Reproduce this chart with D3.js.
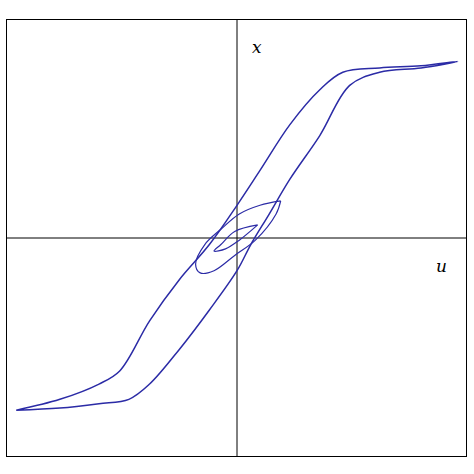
<!DOCTYPE html>
<html><head><meta charset="utf-8">
<script src="https://cdn.jsdelivr.net/npm/d3@7"></script>
<style>body{margin:0;background:#fff}</style>
</head><body>
<script>
// loops in (u, x) units
const outerLoop = [
  [-96,-79],[-77,-74],[-60,-67],[-51,-61],[-38,-38],[-25,-19],[-12,-3],[0,15],[10,31],[23,52],[36,68],[46,76],[62,78],[80,79],[96,81],
  [80,78],[62,76],[49,70],[36,47],[23,27],[14,11],[6,-3],[0,-15],[-12,-33],[-25,-51],[-38,-67],[-47,-74],[-60,-76],[-77,-78],[-96,-79]
];
const middleLoop = [
  [19,17],[10,15],[1,11],[-7,4],[-14,-3],[-18,-12],[-16,-16],[-10,-15],[-1,-8],[8,-1],[17,11],[19,17]
];
const innerLoop = [
  [9,6],[-1,3],[-7,-3],[-10,-6],[-5,-5],[1,-1],[9,6]
];

const svg = d3.select('body').append('svg').attr('width', 474).attr('height', 474);
const xScale = d3.scaleLinear().domain([-100, 100]).range([7, 467]);
const yScale = d3.scaleLinear().domain([-100, 100]).range([456, 20]);

svg.append('rect').attr('x', 6.5).attr('y', 19.5).attr('width', 460).attr('height', 437)
  .attr('fill', 'none').attr('stroke', '#000').attr('stroke-width', 1);

svg.append('line').attr('x1', xScale(0)).attr('x2', xScale(0)).attr('y1', 20).attr('y2', 456)
  .attr('stroke', '#000').attr('stroke-width', 1);
svg.append('line').attr('x1', 7).attr('x2', 466).attr('y1', yScale(0)).attr('y2', yScale(0))
  .attr('stroke', '#000').attr('stroke-width', 1);

const line = d3.line().x(d => xScale(d[0])).y(d => yScale(d[1])).curve(d3.curveCatmullRom);
[outerLoop, middleLoop, innerLoop].forEach((pts, i) => {
  svg.append('path').attr('d', line(pts)).attr('fill', 'none')
    .attr('stroke', '#2b2ba6').attr('stroke-width', i === 0 ? 1.5 : 1.2);
});

svg.append('text').attr('x', 252).attr('y', 53).text('x')
  .style('font-family', 'DejaVu Serif').style('font-style', 'italic').style('font-size', '17px');
svg.append('text').attr('x', 436).attr('y', 272).text('u')
  .style('font-family', 'DejaVu Serif').style('font-style', 'italic').style('font-size', '17px');
</script>
</body></html>
